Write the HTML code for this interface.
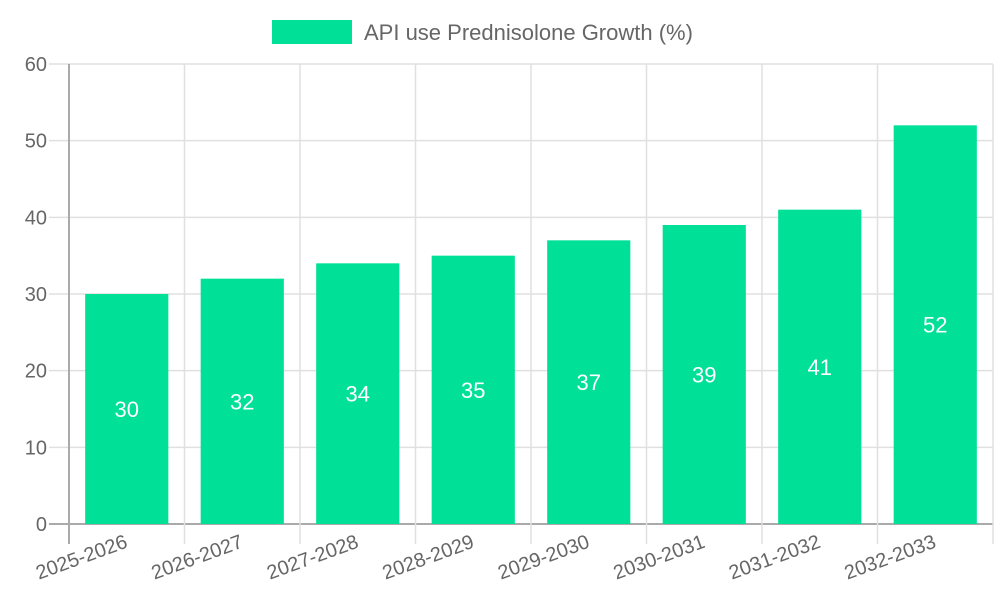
<!DOCTYPE html>
<html><head><meta charset="utf-8"><style>
html,body{margin:0;padding:0;background:#fff;}
svg{display:block;font-family:"Liberation Sans",sans-serif;}
</style></head><body>
<svg id="chart" width="1000" height="600">
<g id="legend">
<rect x="272" y="20" width="80" height="24" fill="#00e096"></rect>
<text x="364" y="40" font-size="22" fill="#666">API use Prednisolone Growth (%)</text>
</g>
<g id="grid"></g><g id="bars"></g><g id="labels"></g>
</svg>
<script>
const categories=["2025-2026","2026-2027","2027-2028","2028-2029","2029-2030","2030-2031","2031-2032","2032-2033"];
const values=[30,32,34,35,37,39,41,52];
const yTicks=[0,10,20,30,40,50,60];
const NS="http://www.w3.org/2000/svg";
const L=69,R=993,T=64,B=524,yMax=60;
const band=(R-L)/categories.length;
function y(v){return B-(v/yMax)*(B-T);}
function x(i){return L+band*i;}
function mk(tag,attrs,parent,txt){const e=document.createElementNS(NS,tag);for(const k in attrs)e.setAttribute(k,attrs[k]);if(txt!==undefined)e.textContent=txt;parent.appendChild(e);return e;}
const grid=document.getElementById('grid'),bars=document.getElementById('bars'),labels=document.getElementById('labels');
yTicks.forEach(t=>{
  const l=mk('line',{x1:49,x2:R,y1:y(t),y2:y(t),stroke:t===0?'#aaa':'#e0e0e0','stroke-width':t===0?2:1.5},grid);
  
  
  const tx=mk('text',{x:47,y:y(t)+7,'text-anchor':'end','font-size':20,fill:'#666'},labels,String(t));
  
  
});
for(let i=0;i<=categories.length;i++){
  const l=mk('line',{x1:x(i),x2:x(i),y1:T,y2:B+20,stroke:i===0?'#aaa':'#e0e0e0','stroke-width':i===0?2:1.5},grid);
  
  
}
const bw=band*0.72;
categories.forEach((c,i)=>{
  const cx=x(i)+band/2;
  const r=mk('rect',{x:cx-bw/2,y:y(values[i]),width:bw,height:B-y(values[i]),fill:'#00e096'},bars);
  
  
  const v=mk('text',{x:cx,y:(y(values[i])+B)/2+8,'text-anchor':'middle','font-size':22,fill:'#fff'},labels,String(values[i]));
  
  
  const t=mk('text',{x:cx+2,y:547,'text-anchor':'end','font-size':20,fill:'#666',transform:'rotate(-20 '+(cx+2)+' 547)'},labels,c);
  
  
});
</script>
</body></html>
